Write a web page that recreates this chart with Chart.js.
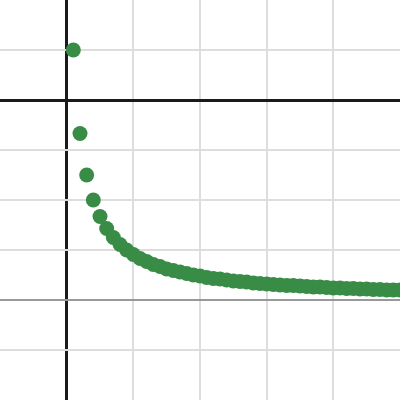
<!DOCTYPE html>
<html>
<head>
<meta charset="utf-8">
<script src="https://cdn.jsdelivr.net/npm/chart.js@4/dist/chart.umd.min.js"></script>
<style>
  html, body { margin: 0; padding: 0; background: #ffffff; }
  #wrap { width: 400px; height: 400px; }
</style>
</head>
<body>
<div id="wrap"><canvas id="chart" width="400" height="400"></canvas></div>
<script>
// Values (x in grid units, y in grid units)
const xValues = [
  0.1, 0.2, 0.3, 0.4, 0.5, 0.6, 0.7, 0.8, 0.9, 1.0,
  1.1, 1.2, 1.3, 1.4, 1.5, 1.6, 1.7, 1.8, 1.9, 2.0,
  2.1, 2.2, 2.3, 2.4, 2.5, 2.6, 2.7, 2.8, 2.9, 3.0,
  3.1, 3.2, 3.3, 3.4, 3.5, 3.6, 3.7, 3.8, 3.9, 4.0,
  4.1, 4.2, 4.3, 4.4, 4.5, 4.6, 4.7, 4.8, 4.9, 5.0
];
const yValues = [
  1.00, -0.67, -1.50, -2.00, -2.33, -2.57, -2.75, -2.89, -3.00, -3.09,
  -3.17, -3.23, -3.29, -3.33, -3.38, -3.41, -3.44, -3.47, -3.50, -3.52,
  -3.55, -3.57, -3.58, -3.60, -3.62, -3.63, -3.64, -3.66, -3.67, -3.68,
  -3.69, -3.70, -3.71, -3.71, -3.72, -3.73, -3.74, -3.74, -3.75, -3.76,
  -3.76, -3.77, -3.77, -3.78, -3.78, -3.79, -3.79, -3.80, -3.80, -3.80
];
const xRange = [-1, 5];
const yRange = [-6, 2];
const markedY = -4; // the darker horizontal line

const points = xValues.map((x, i) => ({ x: x, y: yValues[i] }));

// Grid styling: axes black, y=-4 grey, rest light, no lines on the edges
function gridColor(axis) {
  return function (ctx) {
    const v = ctx.tick ? ctx.tick.value : null;
    const r = axis === 'x' ? xRange : yRange;
    if (v === r[0] || v === r[1]) return 'rgba(0,0,0,0)';
    if (v === 0) return '#1a1a1a';
    if (axis === 'y' && v === markedY) return '#999999';
    return '#dddddd';
  };
}
function gridWidth(axis) {
  return function (ctx) {
    const v = ctx.tick ? ctx.tick.value : null;
    if (v === 0) return 3;
    return 2;
  };
}

new Chart(document.getElementById('chart').getContext('2d'), {
  type: 'scatter',
  data: {
    datasets: [{
      data: points,
      backgroundColor: '#388c46',
      borderWidth: 0,
      pointRadius: 7.5,
      pointHoverRadius: 7.5
    }]
  },
  options: {
    responsive: false,
    animation: false,
    devicePixelRatio: 1,
    layout: { padding: 0, autoPadding: false },
    plugins: {
      legend: { display: false },
      tooltip: { enabled: false }
    },
    scales: {
      x: {
        type: 'linear',
        min: xRange[0],
        max: xRange[1],
        ticks: { display: false, stepSize: 1 },
        border: { display: false },
        grid: { color: gridColor('x'), lineWidth: gridWidth('x'), drawTicks: false }
      },
      y: {
        type: 'linear',
        min: yRange[0],
        max: yRange[1],
        ticks: { display: false, stepSize: 1 },
        border: { display: false },
        grid: { color: gridColor('y'), lineWidth: gridWidth('y'), drawTicks: false }
      }
    }
  }
});
</script>
</body>
</html>
